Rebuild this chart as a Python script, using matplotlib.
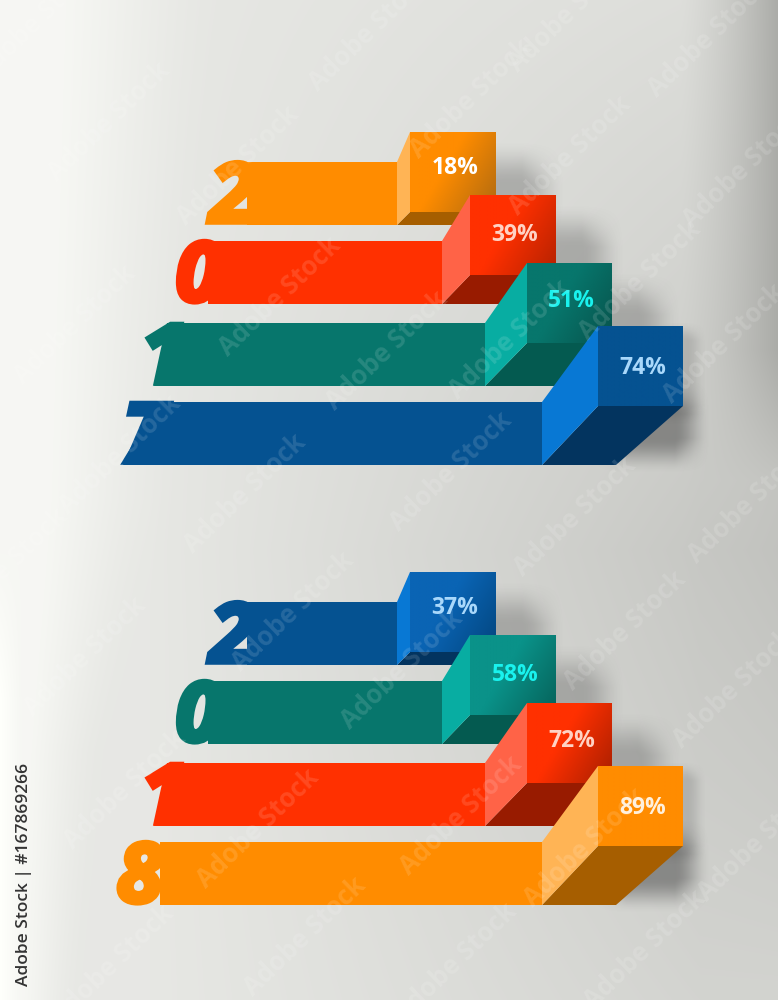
import matplotlib
matplotlib.use('Agg')
import matplotlib.pyplot as plt
import matplotlib.patheffects as pe
from matplotlib.colors import to_rgb
import numpy as np

W, H = 778, 1000

# values and labels, top to bottom
digits_a = ['2', '0', '1', '7']
digits_b = ['2', '0', '1', '8']
values_a = [18, 39, 51, 74]
values_b = [37, 58, 72, 89]

# the bars do not follow the percentages in the picture, so their ends are read off too
bar_ends = [397, 442, 485, 542]
start_top_a = [247, 208, 167, 150]
start_bot_a = [247, 208, 154, 123]
start_top_b = [247, 208, 167, 160]
start_bot_b = [247, 208, 154, 160]
digit_x_a = [210, 176, 141, 122]
digit_x_b = [210, 176, 141, 117]
rows_top = [162, 241, 323, 402]
box_left = [410, 470, 527, 598]
box_right = [496, 556, 612, 683]
box_top = [132, 195, 263, 326]
box_floor = [212, 275, 343, 406]
floor_right = [483, 513, 560, 616]
label_dy = [35, 39, 37, 41]
group_offset = [0, 440]
ROW_H = 63

# front, side, floor
orange = ('#ff8c00', '#ffb455', '#a65e00')
red = ('#ff3000', '#ff6347', '#981b00')
teal = ('#07766c', '#08ada2', '#045a50')
blue = ('#055291', '#0878d4', '#03345f')
colors_a = [orange, red, teal, blue]
colors_b = [blue, teal, red, orange]
# back wall start and end, label
back_a = [('#ff8c00', '#b06a10'), ('#ff3000', '#b52200'), ('#07766c', '#07534c'), ('#055291', '#055291')]
back_b = [('#0a64b4', '#03467f'), ('#0a9289', '#06625a'), ('#ff3000', '#a81f00'), ('#ff8c00', '#ff8c00')]
labels_a = ['#ffffff', '#ffd2c4', '#19f2ee', '#a9d8fb']
labels_b = ['#a9d8fb', '#19f2ee', '#ffd2c4', '#fff0dc']

watermarks = [(37, 22), (109, 122), (238, 166), (370, 32), (471, 99), (570, 156), (709, 38),
              (570, 13), (744, 169), (640, 281), (724, 344), (75, 325), (280, 297), (387, 351),
              (510, 340), (120, 455), (245, 494), (451, 472), (575, 517), (749, 504), (7, 568),
              (85, 657), (293, 612), (402, 670), (625, 631), (734, 689), (125, 790), (258, 829),
              (461, 816), (585, 848), (759, 842), (113, 965), (305, 937), (456, 963), (645, 950)]

plt.rcParams['font.family'] = ['Open Sans', 'DejaVu Sans']

fig = plt.figure(figsize=(W / 100, H / 100), dpi=100)
ax = fig.add_axes([0, 0, 1, 1])

# paper background
px = np.arange(W) + 0.5
py = np.arange(H) + 0.5
xx, yy = np.meshgrid(px, py)
fall = np.interp(yy, [0, 300, 550, 800, 1000], [10, 22, 32, 26, 20])
across = np.clip((xx - 150) / 550, 0, 1)
grey = 231 - fall * across
# dark strip at the top right
strip = np.clip((xx - 680) / 98, 0, 1) ** 1.4 * np.interp(yy, [0, 350, 480, 1000], [50, 36, 6, 0])
grey = grey - strip
# light band on the left, narrowing downwards
band = np.interp(yy, [0, 500, 750, 1000], [230, 180, 110, 85])
g = np.clip(1 - xx / band, 0, 1)
glow = g * g * (3 - 2 * g) * 1.25
glow = np.clip(glow, 0, 1)
edge = np.clip(1 - xx / 22, 0, 1) * np.interp(yy, [0, 550, 700, 1000], [0, 0, 1, 1])
grey = grey * (1 - glow) + 246 * glow + 9 * edge
bg = np.dstack([grey, grey + 0.8, grey - 3]) / 255
ax.imshow(np.clip(bg, 0, 1), extent=(0, W, H, 0), aspect='auto', zorder=0)


def soft_shadow(x0, x1, y0, y1, blur, strength, z):
    # blurred dark rectangle as an alpha image
    sx = np.clip((px - x0) / blur + 0.5, 0, 1)
    sy = np.clip((py - y0) / blur + 0.5, 0, 1)
    ex = np.clip((x1 - px) / blur + 0.5, 0, 1)
    ey = np.clip((y1 - py) / blur + 0.5, 0, 1)
    a = np.outer(sy * ey, sx * ex)
    img = np.zeros((H, W, 4))
    img[..., :3] = 0.25
    img[..., 3] = a * a * (3 - 2 * a) * strength
    ax.imshow(img, extent=(0, W, H, 0), aspect='auto', zorder=z)


def back_face(x0, x1, y0, y1, c0, c1, z):
    # back wall, darkening towards the lower right corner
    u, v = np.meshgrid(np.linspace(0, 1, 60), np.linspace(0, 1, 60))
    t = np.clip((u + 0.55 * v - 0.65) / 0.9, 0, 1)[..., None]
    img = np.array(to_rgb(c0)) * (1 - t) + np.array(to_rgb(c1)) * t
    ax.imshow(img, extent=(x0, x1, y1, y0), aspect='auto', zorder=z, interpolation='bilinear')


def draw_group(digits, values, s_top, s_bot, dig_x, cols, backs, label_cols, dy):
    for i in range(4):
        z = 3 + i
        top = rows_top[i] + dy
        bot = top + ROW_H
        end = bar_ends[i]
        front, side, floor = cols[i]
        bl, br = box_left[i], box_right[i]
        bt, bf = box_top[i] + dy, box_floor[i] + dy

        # shadow thrown up and to the right of each box
        if i < 3:
            soft_shadow(br - 25, br + 48, bt + 30, box_top[i + 1] + dy + 30, 44, 0.30, 2)
        else:
            soft_shadow(br - 75, br + 10, bf - 10, bf + 50, 36, 0.50, 2)
            soft_shadow(br - 20, br + 14, bt + 5, bf + 10, 20, 0.20, 2)

        ax.fill([s_top[i], end, end, s_bot[i]], [top, top, bot, bot], color=front, lw=0, zorder=z)
        back_face(bl, br, bt, bf, backs[i][0], backs[i][1], z)
        ax.fill([end, bl, br, floor_right[i]], [bot, bf, bf, bot], color=floor, lw=0, zorder=z)
        ax.fill([end, bl, bl, end], [top, bt, bf, bot], color=side, lw=0, zorder=z)

        t = ax.text(dig_x[i], bot - 3, digits[i], fontsize=59, fontweight='bold', style='italic',
                    color=front, ha='left', va='baseline', zorder=z)
        t.set_path_effects([pe.withStroke(linewidth=4, foreground=front, joinstyle='miter')])
        ax.text((bl + br) / 2 + 2, bt + label_dy[i] + 1, f'{values[i]}%', fontsize=16.5, fontweight='bold',
                color=label_cols[i], ha='center', va='center', zorder=z + 0.5)


draw_group(digits_a, values_a, start_top_a, start_bot_a, digit_x_a, colors_a, back_a, labels_a, group_offset[0])
draw_group(digits_b, values_b, start_top_b, start_bot_b, digit_x_b, colors_b, back_b, labels_b, group_offset[1])

for wx, wy in watermarks:
    ax.text(wx, wy, 'Adobe Stock', fontsize=18.5, fontweight='bold', color='white', alpha=0.13,
            rotation=44, ha='center', va='center', zorder=20, rotation_mode='anchor')

ax.text(24, 874, 'Adobe Stock | #167869266', fontsize=12.5, fontweight='semibold', color='#333333',
        rotation=90, ha='center', va='center', zorder=21)

ax.set_xlim(0, W)
ax.set_ylim(H, 0)
ax.axis('off')
fig.savefig('out.png', dpi=100)
